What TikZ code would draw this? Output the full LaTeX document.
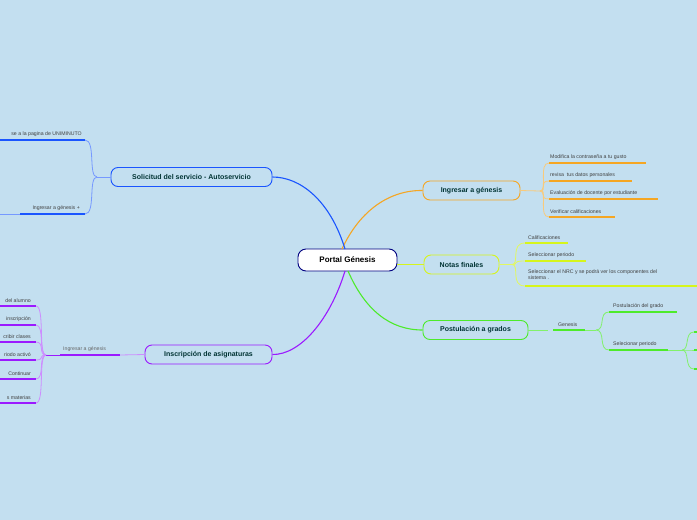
\documentclass[tikz,border=0pt]{standalone}
\usepackage{fontspec}
\setmainfont{Liberation Sans}
\begin{document}
\begin{tikzpicture}[x=1pt,y=-1pt,
  leaf/.style={font=\fontsize{5.2}{6.2}\selectfont, text=black!75, inner sep=0pt, anchor=south west},
  main/.style={draw, line width=0.9pt, rounded corners=7pt, font=\bfseries\fontsize{7}{8}\selectfont, text=teal!40!black, minimum height=19pt, inner xsep=8pt},
  br/.style={line width=0.8pt},
  ul/.style={line width=1.5pt}]
\definecolor{bg}{HTML}{C3DFF0}
\definecolor{cOr}{HTML}{F5A623}
\definecolor{cYe}{HTML}{D6F51C}
\definecolor{cGr}{HTML}{4DEB2B}
\definecolor{cBl}{HTML}{1A55FF}
\definecolor{cPu}{HTML}{9B1AFF}
\fill[bg] (0,0) rectangle (697,520);
\useasboundingbox (0,0) rectangle (697,520);
\clip (0,0) rectangle (697,520);
% central
\node[main, draw=blue!50!black, fill=white, minimum width=99pt, minimum height=22pt, rounded corners=8pt, text=black, font=\bfseries\fontsize{8}{9}\selectfont] (c) at (347.5,260) {Portal Génesis};
\node[main, draw=cOr, minimum width=97pt] (ig) at (471.5,190.5) {Ingresar a génesis};
\node[main, draw=cYe, minimum width=75pt] (nf) at (461.5,264.5) {Notas finales};
\node[main, draw=cGr, minimum width=105pt] (pg) at (475.5,330) {Postulación a grados};
\node[main, draw=cBl, minimum width=161pt] (ss) at (191.5,177) {Solicitud del servicio - Autoservicio};
\node[main, draw=cPu, minimum width=127pt] (ia) at (208.5,354.5) {Inscripción de asignaturas};
% main connectors
\draw[br,cOr,line width=1.1pt] (342,249) .. controls (360,210) and (390,190) .. (ig.west);
\draw[br,cYe,line width=1.1pt] (c.east|-nf) -- (nf.west);
\draw[br,cGr,line width=1.1pt] (348,271) .. controls (365,310) and (390,330) .. (pg.west);
\draw[br,cBl,line width=1.1pt] (345,249) .. controls (330,200) and (300,177) .. (ss.east);
\draw[br,cPu,line width=1.1pt] (345,271) .. controls (330,320) and (300,355) .. (ia.east);
% orange leaves
\coordinate (of) at (540,191);
\draw[br,cOr!60] (ig.east) -- (of);
\foreach \y/\x/\t in {163/646/Modifica la contraseña a tu gusto, 181/632/revisa\ \ tus datos personales, 199/658/Evaluación de docente por estudiante, 217/615/Verificar calificaciones}{
  \draw[br,cOr!60] (of) .. controls (548,191) and (538,\y) .. (549,\y);
  \draw[ul,cOr] (549,\y) -- (\x,\y);
  \node[leaf] at (550,\y-3) {\t};}
% yellow leaves
\coordinate (yf) at (512,264.5);
\draw[br,cYe!70] (nf.east) -- (yf);
\foreach \y/\x in {243/568, 261/586, 286/697}{
  \draw[br,cYe!70] (yf) .. controls (520,264.5) and (510,\y) .. (525,\y);
  \draw[ul,cYe] (525,\y) -- (\x,\y);}
\node[leaf] at (528,240) {Calificaciones};
\node[leaf] at (528,258) {Seleccionar periodo};
\node[leaf, anchor=north west, align=left] at (528,269) {Seleccionar el NRC y se podrá ver los componentes del\\sistema .};
% green leaves
\draw[br,cGr!70] (pg.east) -- (548,330);
\draw[ul,cGr] (553,330) -- (585,330);
\draw[br,cGr!70] (585,330) -- (596,330);
\node[leaf] at (558,327) {Genesis};
\coordinate (gf) at (596,330);
\foreach \y/\x in {312/677, 350/668}{
  \draw[br,cGr!70] (gf) .. controls (606,330) and (598,\y) .. (609,\y);
  \draw[ul,cGr] (609,\y) -- (\x,\y);}
\draw[br,cGr!70] (668,350) -- (682,350);
\node[leaf] at (613,309) {Postulación del grado};
\node[leaf] at (613,347) {Selecionar periodo};
\coordinate (gf2) at (682,350);
\foreach \y in {332,350,369}{
  \draw[br,cGr!70] (gf2) .. controls (690,350) and (684,\y) .. (694,\y);
  \draw[ul,cGr] (694,\y) -- (697,\y);}
% blue leaves
\coordinate (bf) at (97,177);
\draw[br,cBl!60] (ss.west) -- (bf);
\foreach \y in {140,214}{
  \draw[br,cBl!60] (bf) .. controls (88,177) and (96,\y) .. (85,\y);}
\draw[ul,cBl] (0,140) -- (85,140);
\draw[br,cBl!60] (0,214) -- (20,214);
\draw[ul,cBl] (20,214) -- (85,214);
\node[leaf, anchor=south east] at (82,137) {se a la pagina de UNIMINUTO};
\node[leaf, anchor=south east] at (80,211) {Ingresar a génesis +};
% purple leaves
\draw[br,cPu!50] (ia.west) -- (120,355);
\draw[ul,cPu] (120,355) -- (60,355);
\draw[br,cPu] (60,355) -- (46,355);
\node[leaf, text=black!60] at (63,352) {Ingresar a génesis};
\coordinate (pf) at (46,355);
\foreach \y/\t in {306/del alumno, 325/inscripción, 342/cribir clases, 360/riodo activó, 379/Continuar, 403/s materias}{
  \draw[br,cPu!50] (pf) .. controls (38,355) and (45,\y) .. (36,\y);
  \draw[ul,cPu] (0,\y) -- (36,\y);
  \node[leaf, anchor=south east] at (31,\y-3) {\t};}
\end{tikzpicture}
\end{document}
